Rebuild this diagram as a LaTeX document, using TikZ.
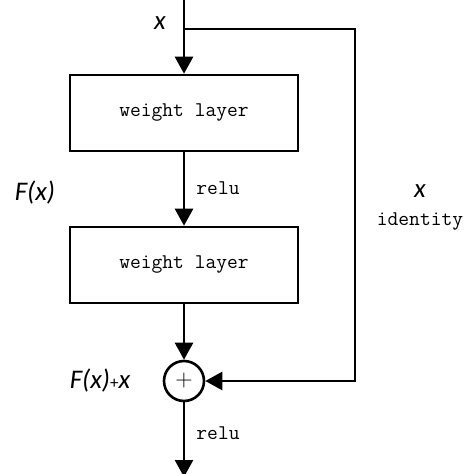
\documentclass[tikz,border=0pt]{standalone}
\usepackage{fontspec}
\newfontfamily\lblfont{Carlito}
\usetikzlibrary{arrows.meta}
\begin{document}
\begin{tikzpicture}[x=1bp,y=-1bp,
  conn/.style={line width=2.6bp},
  arr/.style={conn,-{Triangle[width=18bp,length=17bp]}},
  layerbox/.style={draw,line width=2.6bp,minimum width=228bp,minimum height=76bp,inner sep=0,font=\ttfamily\fontsize{21}{24}\selectfont},
  monotext/.style={font=\ttfamily\fontsize{21}{24}\selectfont,inner sep=0},
  itlabel/.style={font=\lblfont\itshape\fontsize{27}{30}\selectfont,inner sep=0},
  addnode/.style={draw,circle,line width=2.6bp,minimum size=40bp,inner sep=0}]
\useasboundingbox (0,0) rectangle (474,474);
\coordinate (top) at (184,-5);
\coordinate (split) at (184,29);
\coordinate (c1) at (355,29);
\coordinate (c2) at (355,381);
\coordinate (out) at (184,477);
\node[layerbox] (w1) at (184,113) {weight layer};
\node[layerbox] (w2) at (184,265) {weight layer};
\node[addnode] (add) at (184,381) {};
\node[font=\fontsize{24}{26}\selectfont,inner sep=0] (plus) at (add.center) {+};
\draw[arr] (top) -- (w1.north);
\draw[arr] (w1.south) -- (w2.north);
\draw[arr] (w2.south) -- (add.north);
\draw[arr] (split) -- (c1) -- (c2) -- (add.east);
\draw[arr] (add.south) -- (out);
\node[itlabel] (lx) at (160,23) {x};
\node[monotext] (relu1) at (218,188) {relu};
\node[itlabel] (lfx) at (35,193) {F(x)};
\node[itlabel] (lxid) at (420,191) {x};
\node[monotext] (lid) at (420,221) {identity};
\node[itlabel] (lsum) at (100,381) {F(x)\textup{\fontsize{17}{19}\selectfont+}x};
\node[monotext] (relu2) at (218,433) {relu};
\end{tikzpicture}
\end{document}
